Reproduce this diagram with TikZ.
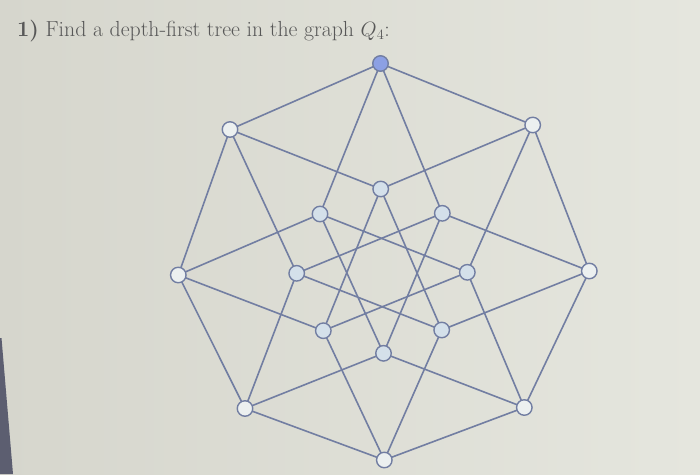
\documentclass[tikz,border=0pt]{standalone}
\usepackage{fontspec}
\begin{document}
\begin{tikzpicture}[x=1pt,y=-1pt,
  edge/.style={draw=edgec,line width=1.6pt},
  vtx/.style={circle,draw=edgec,line width=1.4pt,fill=vfill,minimum size=15.5pt,inner sep=0pt},
  ivtx/.style={vtx,fill=ifill},
  root/.style={vtx,fill=rootc}]
\definecolor{bgl}{RGB}{214,214,205}
\definecolor{bgm}{RGB}{236,237,231}
\definecolor{bgr}{RGB}{229,230,222}
\definecolor{shadowc}{RGB}{92,94,112}
\definecolor{edgec}{RGB}{114,126,162}
\definecolor{vfill}{RGB}{236,240,240}
\definecolor{ifill}{RGB}{212,224,234}
\definecolor{rootc}{RGB}{140,160,228}
\definecolor{txtc}{RGB}{88,88,88}
\shade[left color=bgl,middle color=bgm,right color=bgr] (0,0) rectangle (700,474);
\fill[shadowc] (0,338) -- (1.5,338) -- (13,474) -- (0,474) -- cycle;
\useasboundingbox (0,0) rectangle (700,474);
\node[anchor=base west,text=txtc,font=\fontsize{21.8}{25}\selectfont,inner sep=0pt] (title) at (17,36) {\textbf{1)} Find a depth-first tree in the graph $Q_4$:};
% outer
\coordinate (o0) at (380.5,63.5);
\coordinate (o1) at (532.7,125);
\coordinate (o2) at (589.3,271);
\coordinate (o3) at (524.3,407.5);
\coordinate (o4) at (384.3,460);
\coordinate (o5) at (245,408.5);
\coordinate (o6) at (178.3,275);
\coordinate (o7) at (230,129.5);
% inner
\coordinate (i0) at (380.7,189);
\coordinate (i1) at (442.3,213.3);
\coordinate (i2) at (467.3,272.3);
\coordinate (i3) at (441.7,330);
\coordinate (i4) at (383.5,353.3);
\coordinate (i5) at (323.3,330.7);
\coordinate (i6) at (296.7,273.3);
\coordinate (i7) at (320,214);
\foreach \k [evaluate=\k as \n using {int(mod(\k+1,8))},
             evaluate=\k as \m using {int(mod(\k+3,8))}] in {0,...,7}{
  \draw[edge] (o\k) -- (o\n);
  \draw[edge] (o\k) -- (i\n);
  \draw[edge] (i\k) -- (o\n);
  \draw[edge] (i\k) -- (i\m);
}
\node[root] (v0) at (o0) {};
\foreach \k in {1,...,7}{\node[vtx] (v\k) at (o\k) {};}
\foreach \k in {0,...,7}{\node[ivtx] (w\k) at (i\k) {};}
\end{tikzpicture}
\end{document}
